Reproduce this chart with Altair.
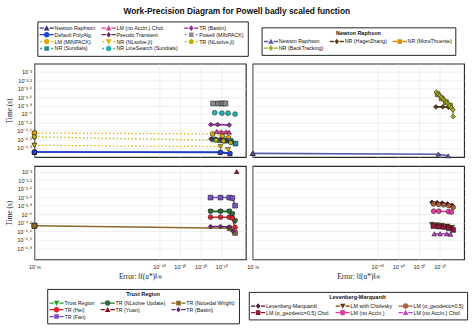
import json
import math
import altair as alt
import pandas as pd

NEG_INF = float("-inf")
ZERO_ERR = -100.0          # exact-zero errors (10^-inf) are drawn at this exponent
X_DOMAIN = [-100.0, 1.8]

# ---------------- top-left panel (mixed solvers) -- names in legend column order
tl_names = ["Newton Raphson", "Default PolyAlg.", "LM (MINPACK)", "NR (Sundials)",
            "LM (no Accln.) Chol.", "Pseudo Transient", "NR (NLsolve.jl)", "NR LineSearch (Sundials)",
            "TR (Bastin)", "Powell (MINPACK)", "TR (NLsolve.jl)"]
tl_colors = ["#2e2f86", "#1f45d6", "#e0a800", "#1f8f86",
             "#e0418f", "#5a2a5e", "#d9b300", "#22b3b3",
             "#8e2a92", "#8c8c8c", "#b9b400"]
tl_markers = ["triangle-up", "circle", "circle", "square",
              "triangle-up", "diamond", "triangle-down", "circle",
              "diamond", "square", "pentagon"]
tl_dotted = [False, False, True, True, False, False, True, True, False, True, True]
tl_log_err = [[NEG_INF, NEG_INF, NEG_INF, -10.6, -5.9],
              [NEG_INF, NEG_INF, NEG_INF, -10.4, -5.8],
              [NEG_INF, NEG_INF, -14.2, -9.5, -6.5],
              [-13.5, -10.8, -8.2, -5.5, -3.2],
              [-12.3, -10.0, -7.6, -6.2],
              [-15.0, -12.6, -10.2, -8.0, -5.0],
              [NEG_INF, NEG_INF, -10.4, -6.7],
              [-13.2, -9.7, -6.8, -3.4],
              [-15.1, -11.8, -6.2],
              [-14.0, -11.5, -10.0, -9.0, -8.0],
              [NEG_INF, NEG_INF, -12.5, -9.0, -5.5]]
tl_log_time = [[-4.90, -4.90, -4.90, -4.91, -4.94],
               [-4.90, -4.90, -4.90, -4.90, -4.93],
               [-4.45, -4.45, -4.47, -4.52, -4.56],
               [-4.60, -4.62, -4.63, -4.64, -4.70],
               [-4.41, -4.42, -4.42, -4.43],
               [-4.59, -4.60, -4.61, -4.63, -4.66],
               [-4.74, -4.74, -4.77, -4.84],
               [-3.97, -3.98, -3.98, -4.00],
               [-4.25, -4.25, -4.26],
               [-3.75, -3.75, -3.75, -3.75, -3.75],
               [-4.54, -4.54, -4.62, -4.64, -4.68]]

# ---------------- top-right panel (Newton Raphson family)
tr_names = ["Newton Raphson", "NR (HagerZhang)", "NR (MoreThuente)", "NR (BackTracking)"]
tr_colors = ["#5b5ba8", "#5b3a1e", "#e08a00", "#9aab1c"]
tr_markers = ["triangle-up", "diamond", "square", "diamond"]
tr_dotted = [False, False, False, False]
tr_log_err = [[NEG_INF, NEG_INF, NEG_INF, -10.6, -5.9],
              [-11.8, -8.5, -5.7],
              [-11.0, -9.0, -7.0, -5.0],
              [-11.6, -10.8, -10.0, -9.2, -8.4, -7.6, -6.8, -6.0, -5.2, -4.4, -3.6, -3.5]]
tr_log_time = [[-4.93, -4.93, -4.93, -4.95, -4.99],
               [-3.83, -3.83, -3.84],
               [-3.53, -3.63, -3.72, -3.80],
               [-3.48, -3.52, -3.56, -3.60, -3.64, -3.68, -3.72, -3.76, -3.80, -3.85, -3.90, -4.06]]

# ---------------- bottom-left panel (Trust Region family)
bl_names = ["Trust Region", "TR (NLsolve Update)", "TR (Nocedal Wright)",
            "TR (Hei)", "TR (Yuan)", "TR (Bastin)", "TR (Fan)"]
bl_colors = ["#22a033", "#2e6b3a", "#8a6a2a", "#e02228", "#8b0a1a", "#6a2a72", "#7a50c0"]
bl_markers = ["triangle-down", "circle", "square", "circle", "triangle-up", "diamond", "square"]
bl_dotted = [False] * 7
bl_log_err = [[-15.2, -10.4, -6.2, -4.7, -3.4],
              [-15.2, -10.4, -6.2, -4.7, -3.4],
              [NEG_INF, NEG_INF, NEG_INF, -6.0, -3.4],
              [-15.2, -10.4, -6.2, -4.7, -3.4],
              [-2.6],
              [-15.2, -10.4, -6.2, -4.4],
              [-15.2, -10.4, -6.2, -4.7, -3.4]]
bl_log_time = [[-3.94, -3.94, -3.94, -4.00, -4.17],
               [-3.93, -3.93, -3.93, -3.99, -4.15],
               [-4.27, -4.27, -4.27, -4.33, -4.44],
               [-4.07, -4.07, -4.07, -4.09, -4.31],
               [-3.00],
               [-4.29, -4.29, -4.30, -4.40],
               [-3.61, -3.61, -3.61, -3.62, -3.80]]

# ---------------- bottom-right panel (Levenberg-Marquardt family)
br_names = ["Levenberg-Marquardt", "LM with Cholesky", "LM (α_geodesic=0.5)",
            "LM (α_geodesic=0.5) Chol.", "LM (no Accln.)", "LM (no Accln.) Chol."]
br_colors = ["#4a1030", "#6b3a10", "#b0603a", "#8b1a3a", "#e040a0", "#c040c0"]
br_markers = ["diamond", "triangle-down", "circle", "square", "circle", "triangle-up"]
br_dotted = [False] * 6
br_log_err = [[-13.7, -11.2, -8.8, -6.2, -4.0],
              [-13.7, -11.2, -8.8, -6.2, -4.0],
              [-13.0, -10.5, -8.0, -5.6, -3.5],
              [-13.0, -10.5, -8.0, -5.6, -3.5],
              [-12.9, -10.4, -5.7, -4.3],
              [-12.6, -9.8, -6.6, -4.7]]
br_log_time = [[-3.72, -3.73, -3.74, -3.76, -3.79],
               [-4.24, -4.25, -4.26, -4.28, -4.31],
               [-3.76, -3.77, -3.78, -3.80, -3.84],
               [-4.28, -4.29, -4.30, -4.33, -4.37],
               [-3.93, -3.93, -3.94, -3.95],
               [-4.46, -4.46, -4.46, -4.47]]

x_ticks = [-100, -40, -30, -20, -10]
y_ticks = [-3.0, -3.2, -3.4, -3.6, -3.8, -4.0, -4.2, -4.4, -4.6, -4.8]
top_y_domain = [-5.02, -2.81]
bottom_y_domain = [-5.06, -2.87]

TITLE = "Work-Precision Diagram for Powell badly scaled function"

# ---------------------------------------------------------------- helpers
SUP = {"0": "⁰", "1": "¹", "2": "²", "3": "³", "4": "⁴", "5": "⁵", "6": "⁶",
       "7": "⁷", "8": "⁸", "9": "⁹", "-": "⁻", ".": "·"}


def pow_label(v):
    if v <= ZERO_ERR:
        return "10⁻∞"
    s = ("%g" % v)
    return "10" + "".join(SUP[ch] for ch in s)


def label_expr(values):
    expr = "''"
    for v in reversed(values):
        expr = f"abs(datum.value - ({v})) < 1e-6 ? '{pow_label(v)}' : ({expr})"
    return expr


PENTAGON = "M0,-1L0.951,-0.309L0.588,0.809L-0.588,0.809L-0.951,-0.309Z"


def marker_for_plot(m):
    return PENTAGON if m == "pentagon" else m


def legend_path(marker, dotted):
    c, m, h = 1.0, 0.95, 0.22
    parts = []
    if dotted:
        segs = [(-1.2, -0.6), (2.6, 3.2)]
    else:
        segs = [(-1.4, c - m), (c + m, 3.4)]
    for a, b in segs:
        parts.append(f"M{a:.3f},{-h}H{b:.3f}V{h}H{a:.3f}Z")
    if marker == "circle":
        parts.append(f"M{c - m:.3f},0A{m},{m} 0 1,1 {c + m:.3f},0A{m},{m} 0 1,1 {c - m:.3f},0Z")
    elif marker == "square":
        a = 0.78
        parts.append(f"M{c - a:.3f},{-a}H{c + a:.3f}V{a}H{c - a:.3f}Z")
    elif marker == "triangle-up":
        parts.append(f"M{c},{-m}L{c + m:.3f},{0.8 * m:.3f}L{c - m:.3f},{0.8 * m:.3f}Z")
    elif marker == "triangle-down":
        parts.append(f"M{c},{m}L{c + m:.3f},{-0.8 * m:.3f}L{c - m:.3f},{-0.8 * m:.3f}Z")
    elif marker == "diamond":
        parts.append(f"M{c},{-m}L{c + 0.8 * m:.3f},0L{c},{m}L{c - 0.8 * m:.3f},0Z")
    else:  # pentagon
        pts = []
        for k in range(5):
            ang = -math.pi / 2 + k * 2 * math.pi / 5
            pts.append(f"{c + m * math.cos(ang):.3f},{m * math.sin(ang):.3f}")
        parts.append("M" + "L".join(pts) + "Z")
    return "".join(parts)


def make_panel(names, colors, markers, dotted, log_err, log_time, ydom,
               show_x, show_y, legend_kw):
    rows = []
    for i, nm in enumerate(names):
        for e, t in zip(log_err[i], log_time[i]):
            rows.append({"series": nm, "s_line": nm, "s_shape": nm,
                         "err": max(e, ZERO_ERR), "time": t, "dotted": dotted[i]})
    df = pd.DataFrame(rows)
    order = names
    col_range = list(colors)
    shp_range = [marker_for_plot(m) for m in markers]
    leg_paths = [legend_path(markers[i], dotted[i]) for i in range(len(names))]
    shape_expr = f"{json.dumps(leg_paths)}[indexof({json.dumps(order, ensure_ascii=False)}, datum.value)]"

    x_axis = alt.Axis(values=x_ticks, labelExpr=label_expr(x_ticks),
                      labels=show_x, title="Error: ‖f(u*)‖∞" if show_x else None,
                      grid=True, ticks=False, domain=False, labelPadding=5, titlePadding=3,
                      labelFlush=False, labelOverlap=False)
    y_axis = alt.Axis(values=y_ticks, labelExpr=label_expr(y_ticks), labels=show_y,
                      title="Time (s)" if show_y else None, grid=True, ticks=False,
                      domain=False, labelPadding=3, titlePadding=3, labelOverlap=False)
    X = alt.X("err:Q", scale=alt.Scale(domain=X_DOMAIN, nice=False, zero=False), axis=x_axis)
    Y = alt.Y("time:Q", scale=alt.Scale(domain=ydom, nice=False, zero=False), axis=y_axis)
    # separate (legend-less) scales for lines and marker shapes; their domains carry an
    # extra unused key so they are never merged with the colour legend
    stroke = alt.Stroke("s_line:N", scale=alt.Scale(domain=order + ["~line"], range=col_range + ["#000000"]),
                        legend=None)

    base = alt.Chart(df)
    solid = base.transform_filter("!datum.dotted").mark_line(strokeWidth=1.6).encode(
        x=X, y=Y, stroke=stroke, detail="series:N")
    dots = base.transform_filter("datum.dotted").mark_line(strokeWidth=1.3, strokeDash=[1.4, 2.4]).encode(
        x=X, y=Y, stroke=stroke, detail="series:N")
    legend = alt.Legend(orient="none", columns=3, symbolSize=36, labelOffset=8,
                        columnPadding=5, rowPadding=0, padding=3.5,
                        strokeColor="#222", fillColor="white",
                        labelFontSize=5.4, labelFont="Liberation Sans", labelColor="#111",
                        titleFontSize=5.6, titleFont="Liberation Sans", titleFontWeight="bold",
                        titleColor="#111", titleAnchor="middle", titlePadding=2,
                        symbolStrokeWidth=0, symbolOpacity=1,
                        symbolType={"expr": shape_expr}, **legend_kw)
    pts = base.mark_point(filled=True, size=24, opacity=1, stroke="#111", strokeWidth=0.5).encode(
        x=X, y=Y,
        color=alt.Color("series:N", scale=alt.Scale(domain=order, range=col_range), legend=legend),
        shape=alt.Shape("s_shape:N", scale=alt.Scale(domain=order + ["~shape"], range=shp_range + ["circle"]),
                        legend=None))
    return alt.layer(solid, dots, pts).properties(width=215, height=95)


tl = make_panel(tl_names, tl_colors, tl_markers, tl_dotted, tl_log_err, tl_log_time,
                top_y_domain, False, True,
                dict(title=None, direction="vertical", legendX=3, legendY=-43))
tr = make_panel(tr_names, tr_colors, tr_markers, tr_dotted, tr_log_err, tr_log_time,
                top_y_domain, False, False,
                dict(title="Newton Raphson", direction="horizontal", legendX=9, legendY=-37))
bl = make_panel(bl_names, bl_colors, bl_markers, bl_dotted, bl_log_err, bl_log_time,
                bottom_y_domain, True, True,
                dict(title="Trust Region", direction="horizontal", legendX=13, legendY=125))
br = make_panel(br_names, br_colors, br_markers, br_dotted, br_log_err, br_log_time,
                bottom_y_domain, True, False,
                dict(title="Levenberg-Marquardt", direction="horizontal", legendX=-4, legendY=128))

RES = dict(color="independent", shape="independent", stroke="independent",
           x="independent", y="independent")
chart = alt.concat(tl, tr, bl, br, columns=2, spacing=alt.RowColnumber(row=9, column=7),
                   bounds="flush").resolve_scale(**RES).resolve_legend(
    color="independent").properties(
    title=alt.TitleParams(TITLE, fontSize=8.5, fontWeight="bold", font="Liberation Sans",
                          color="#111", anchor="middle", offset=5),
    padding={"left": 5, "top": 4, "right": 5, "bottom": 5},
    background="white",
).configure_view(stroke="#2a2a2a", strokeWidth=1.2).configure_axis(
    gridColor="#e4e4e4", gridWidth=0.6,
    labelFont="Liberation Sans", labelFontSize=5.6, labelColor="#222",
    titleFont="Liberation Serif", titleFontSize=7.5, titleFontWeight="normal", titleColor="#222",
)

chart.save("out.html", embed_options={"renderer": "svg", "actions": False})
